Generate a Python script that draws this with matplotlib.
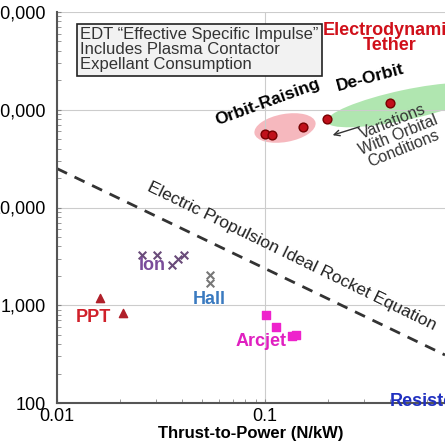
import matplotlib
matplotlib.use("Agg")
import matplotlib.pyplot as plt
from matplotlib.patches import Ellipse
import matplotlib.ticker as mt
from matplotlib import font_manager

names = {f.name for f in font_manager.fontManager.ttflist}
plt.rcParams["font.family"] = ["Liberation Sans Narrow", "Liberation Sans", "DejaVu Sans"] if "Liberation Sans Narrow" in names else ["Liberation Sans", "DejaVu Sans"]

ion_x = [0.0256, 0.0302, 0.0357, 0.0382, 0.0408]
ion_y = [3300, 3300, 2600, 3000, 3300]
hall_x = [0.0544, 0.0544]
hall_y = [2020, 1680]
ppt_x = [0.0161, 0.0207]
ppt_y = [1180, 830]
arc_x = [0.101, 0.113, 0.135, 0.141]
arc_y = [790, 600, 480, 500]
edt_x = [0.100, 0.108, 0.152, 0.198, 0.40]
edt_y = [57000, 55000, 67000, 81000, 117000]
rocket_x = [0.01, 0.733]
rocket_y = [25000, 310]
ytick_vals = [100, 1000, 10000, 100000, 1000000]
ytick_labels = ["100", "1,000", "10,000", "100,000", "1,000,000"]
xtick_vals = [0.01, 0.1]
xtick_labels = ["0.01", "0.1"]

fig = plt.figure(figsize=(4.45, 4.45), dpi=100)
W = H = 445
ax = fig.add_axes([57/W, 1-403/H, 1-57/W, (403-12)/H])
ax.set_xscale("log"); ax.set_yscale("log")
ax.set_xlim(0.01, 0.733); ax.set_ylim(100, 1000000)
ax.set_xticks(xtick_vals); ax.set_xticklabels(xtick_labels, fontsize=13)
ax.set_yticks(ytick_vals); ax.set_yticklabels(ytick_labels, fontsize=13)
ax.xaxis.set_minor_formatter(mt.NullFormatter()); ax.yaxis.set_minor_formatter(mt.NullFormatter())
ax.tick_params(which="both", direction="in", length=3, color="#888")
ax.tick_params(axis="y", pad=8)
ax.grid(True, which="major", color="#cccccc", lw=0.8)
for s in ["right", "top"]:
    ax.spines[s].set_visible(False)
ax.spines["left"].set_color("#555"); ax.spines["bottom"].set_color("#555"); ax.spines["left"].set_linewidth(1.5); ax.spines["bottom"].set_linewidth(1.5)
ax.set_xlabel("Thrust-to-Power (N/kW)", fontsize=12, fontweight="bold", labelpad=1)

ax.add_patch(Ellipse(((285-57)/388, (403-128)/391), 62/388, 28/391, angle=10, transform=ax.transAxes, color="#f08a94", alpha=0.6, lw=0))
ax.add_patch(Ellipse(((405-57)/388, (403-105)/391), 160/388, 30/391, angle=12, transform=ax.transAxes, color="#8fdc8f", alpha=0.7, lw=0))

ax.plot(rocket_x, rocket_y, ls=(0, (4, 3)), color="#333", lw=2)
ax.scatter(ion_x, ion_y, marker="x", color="#6a4c7a", s=30, zorder=3)
ax.scatter(hall_x, hall_y, marker="x", color="#777", s=30, zorder=3)
ax.scatter(ppt_x, ppt_y, marker="^", color="#b0202a", s=35, zorder=3)
ax.scatter(arc_x, arc_y, marker="s", color="#ee22cc", s=35, zorder=3)
ax.scatter(edt_x, edt_y, marker="o", color="#c0101a", edgecolor="#700", s=40, zorder=3)

def t(x, y, s, **kw):
    fig.text(x/W, 1-y/H, s, ha="center", va="center", **kw)

fig.text(80/W, 1-50/H, "EDT \u201cEffective Specific Impulse\u201d\nIncludes Plasma Contactor\nExpellant Consumption",
         ha="left", va="center", fontsize=12, linespacing=1.0, color="#333",
         bbox=dict(boxstyle="square,pad=0.2", fc="#f2f2f2", ec="#222", lw=1.2))
t(390, 38, "Electrodynamic\nTether", color="#d0101a", fontsize=13, fontweight="bold", linespacing=0.9)
t(268, 102, "Orbit-Raising", fontsize=12.5, fontweight="bold", rotation=20)
t(370, 78, "De-Orbit", fontsize=12.5, fontweight="bold", rotation=15)
t(398, 135, "Variations\nWith Orbital\nConditions", fontsize=11.5, rotation=22, color="#333", linespacing=0.95)
ax.annotate("", xy=((330-57)/388, (403-136)/391), xytext=((362-57)/388, (403-126)/391), xycoords="axes fraction",
            arrowprops=dict(arrowstyle="->", color="#333", lw=1))
t(292, 256, "Electric Propulsion Ideal Rocket Equation", fontsize=12.5, rotation=-26, color="#222")
t(152, 266, "Ion", color="#7a4c9a", fontsize=13, fontweight="bold")
t(209, 299, "Hall", color="#3a7ac0", fontsize=13, fontweight="bold")
t(93, 318, "PPT", color="#d0202a", fontsize=13, fontweight="bold")
t(261, 342, "Arcjet", color="#e020c0", fontsize=13, fontweight="bold")
fig.text(390/W, 1-401/H, "Resistojet", color="#2030c0", fontsize=13, fontweight="bold", ha="left", va="center")
fig.savefig("out.png", dpi=100)
